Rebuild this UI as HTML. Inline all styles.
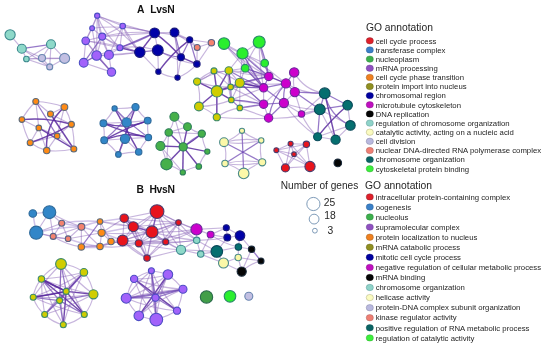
<!DOCTYPE html>
<html><head><meta charset="utf-8"><style>
html,body{margin:0;padding:0;background:#fff;}
svg{display:block;}
text{font-family:"Liberation Sans",Arial,sans-serif;}
.li{font-size:7.75px;fill:#1e1e1e;}
.hd{font-size:10.3px;fill:#262626;}
.tt{font-size:10.3px;font-weight:bold;fill:#111;letter-spacing:-0.25px;}
.el{fill:none;stroke:#8a64b8;stroke-width:1.15;stroke-opacity:0.48;}.em{fill:none;stroke:#6a40b0;stroke-width:1.25;stroke-opacity:0.7;}.ed{fill:none;stroke:#5a2a9e;stroke-width:1.45;stroke-opacity:0.86;}.ew{fill:none;stroke:#8a68c8;stroke-width:1.5;stroke-opacity:0.4;}
</style></head><body>
<svg width="550" height="348" viewBox="0 0 550 348">
<rect width="550" height="348" fill="#fff"/>
<defs><filter id="bl" x="-5%" y="-5%" width="110%" height="110%"><feGaussianBlur stdDeviation="0.3"/></filter></defs>
<g id="edges" filter="url(#bl)">
<path class="el" d="M10.1 34.8L21.8 48.7"/>
<path class="em" d="M21.8 48.7L51.0 44.3"/>
<path class="el" d="M21.8 48.7L42.0 58.0"/>
<path class="el" d="M21.8 48.7L49.7 66.9"/>
<path class="el" d="M26.4 59.0L42.0 58.0"/>
<path class="el" d="M26.4 59.0L64.6 58.4"/>
<path class="el" d="M26.4 59.0L51.0 44.3"/>
<path class="el" d="M26.4 59.0L49.7 66.9"/>
<path class="el" d="M51.0 44.3L42.0 58.0"/>
<path class="el" d="M51.0 44.3L49.7 66.9"/>
<path class="el" d="M42.0 58.0L64.6 58.4"/>
<path class="el" d="M42.0 58.0L49.7 66.9"/>
<path class="el" d="M49.7 66.9L64.6 58.4"/>
<path class="el" d="M21.8 48.7L26.4 59.0"/>
<path class="el" d="M51.0 44.3L64.6 58.4"/>
<path class="el" d="M97.2 15.7L92.1 28.2"/>
<path class="el" d="M97.2 15.7L102.2 36.6"/>
<path class="el" d="M97.2 15.7L85.7 40.8"/>
<path class="el" d="M92.1 28.2L102.2 36.6"/>
<path class="el" d="M92.1 28.2L85.7 40.8"/>
<path class="el" d="M122.7 26.0L102.2 36.6"/>
<path class="el" d="M122.7 26.0L119.9 47.7"/>
<path class="el" d="M122.7 26.0L108.9 54.9"/>
<path class="el" d="M102.2 36.6L85.7 40.8"/>
<path class="el" d="M102.2 36.6L96.6 55.5"/>
<path class="el" d="M102.2 36.6L108.9 54.9"/>
<path class="el" d="M102.2 36.6L119.9 47.7"/>
<path class="el" d="M85.7 40.8L96.6 55.5"/>
<path class="el" d="M85.7 40.8L83.7 62.8"/>
<path class="el" d="M96.6 55.5L108.9 54.9"/>
<path class="el" d="M96.6 55.5L83.7 62.8"/>
<path class="el" d="M96.6 55.5L111.5 72.1"/>
<path class="el" d="M108.9 54.9L111.5 72.1"/>
<path class="el" d="M108.9 54.9L119.9 47.7"/>
<path class="el" d="M83.7 62.8L111.5 72.1"/>
<path class="el" d="M119.9 47.7L96.6 55.5"/>
<path class="el" d="M92.1 28.2L96.6 55.5"/>
<path class="el" d="M85.7 40.8L119.9 47.7"/>
<path class="el" d="M97.2 15.7L96.6 55.5"/>
<path class="el" d="M97.2 15.7L122.7 26.0"/>
<path class="el" d="M97.2 15.7Q104.7 34.4 119.9 47.7"/>
<path class="el" d="M97.2 15.7Q99.1 36.5 108.9 54.9"/>
<path class="em" d="M96.6 55.5L111.5 72.1"/>
<path class="em" d="M83.7 62.8L96.6 55.5"/>
<path class="em" d="M102.2 36.6L83.7 62.8"/>
<path class="el" d="M85.7 40.8L111.5 72.1"/>
<path class="el" d="M97.2 15.7Q125.4 26.0 154.6 32.9"/>
<path class="el" d="M122.7 26.0L154.6 32.9"/>
<path class="ed" d="M119.9 47.7L139.8 52.2"/>
<path class="em" d="M119.9 47.7L154.6 32.9"/>
<path class="el" d="M102.2 36.6Q119.8 47.4 139.8 52.2"/>
<path class="el" d="M108.9 54.9L139.8 52.2"/>
<path class="el" d="M119.9 47.7Q139.1 45.2 157.8 50.2"/>
<path class="el" d="M85.7 40.8Q113.3 43.8 139.8 52.2"/>
<path class="el" d="M96.6 55.5Q118.4 56.0 139.8 52.2"/>
<path class="el" d="M122.7 26.0L139.8 52.2"/>
<path class="el" d="M92.1 28.2Q123.8 24.3 154.6 32.9"/>
<path class="el" d="M102.2 36.6Q128.1 30.6 154.6 32.9"/>
<path class="el" d="M154.6 32.9L174.5 32.5"/>
<path class="ed" d="M154.6 32.9L139.8 52.2"/>
<path class="el" d="M154.6 32.9L157.8 50.2"/>
<path class="em" d="M139.8 52.2L157.8 50.2"/>
<path class="ed" d="M154.6 32.9Q169.3 43.5 181.0 57.2"/>
<path class="ed" d="M181.0 57.2L196.9 64.1"/>
<path class="ed" d="M189.7 39.8Q171.5 53.2 158.4 71.7"/>
<path class="em" d="M174.5 32.5L181.0 57.2"/>
<path class="el" d="M174.5 32.5Q175.3 45.5 181.0 57.2"/>
<path class="el" d="M174.5 32.5Q178.3 54.9 177.5 77.6"/>
<path class="el" d="M157.8 50.2L158.4 71.7"/>
<path class="el" d="M181.0 57.2L177.5 77.6"/>
<path class="el" d="M196.9 64.1Q188.8 73.2 177.5 77.6"/>
<path class="el" d="M158.4 71.7Q167.2 76.9 177.5 77.6"/>
<path class="em" d="M157.8 50.2Q168.6 56.5 181.0 57.2"/>
<path class="em" d="M189.7 39.8L196.9 64.1"/>
<path class="el" d="M174.5 32.5L189.7 39.8"/>
<path class="el" d="M139.8 52.2L158.4 71.7"/>
<path class="el" d="M157.8 50.2Q176.0 61.1 196.9 64.1"/>
<path class="el" d="M154.6 32.9Q172.8 32.8 189.7 39.8"/>
<path class="em" d="M189.7 39.8L181.0 57.2"/>
<path class="el" d="M189.7 39.8L197.2 47.5"/>
<path class="el" d="M196.9 64.1L197.2 47.5"/>
<path class="el" d="M174.5 32.5L197.2 47.5"/>
<path class="el" d="M197.2 47.5L211.4 42.7"/>
<path class="el" d="M211.4 42.7L196.9 64.1"/>
<path class="el" d="M189.7 39.8L211.4 42.7"/>
<path class="el" d="M224.0 43.6L242.5 53.4"/>
<path class="el" d="M259.2 42.0L242.5 53.4"/>
<path class="el" d="M259.2 42.0L264.7 63.2"/>
<path class="el" d="M242.5 53.4L245.2 68.2"/>
<path class="el" d="M259.2 42.0Q250.1 54.0 245.2 68.2"/>
<path class="el" d="M242.5 53.4L264.7 63.2"/>
<path class="el" d="M259.2 42.0Q262.3 59.7 268.8 76.4"/>
<path class="el" d="M242.5 53.4L268.8 76.4"/>
<path class="el" d="M242.5 53.4Q265.7 66.2 285.9 83.4"/>
<path class="el" d="M264.7 63.2L268.8 76.4"/>
<path class="el" d="M245.2 68.2L268.8 76.4"/>
<path class="el" d="M245.2 68.2L263.6 87.8"/>
<path class="el" d="M224.0 43.6Q243.8 63.6 268.8 76.4"/>
<path class="el" d="M242.5 53.4L263.6 87.8"/>
<path class="el" d="M224.0 43.6L245.2 68.2"/>
<path class="el" d="M216.9 91.3L239.8 82.8"/>
<path class="ed" d="M216.9 91.3L228.8 70.5"/>
<path class="ed" d="M216.9 91.3L216.8 117.2"/>
<path class="ed" d="M216.9 91.3L214.0 70.9"/>
<path class="ed" d="M216.9 91.3L197.1 81.6"/>
<path class="ed" d="M216.9 91.3L198.9 106.5"/>
<path class="ed" d="M216.9 91.3L230.6 86.9"/>
<path class="ed" d="M216.9 91.3L231.3 99.9"/>
<path class="ed" d="M228.8 70.5L230.6 86.9"/>
<path class="em" d="M230.6 86.9L231.3 99.9"/>
<path class="em" d="M231.3 99.9L239.8 107.9"/>
<path class="el" d="M228.8 70.5L239.8 82.8"/>
<path class="el" d="M239.8 82.8L230.6 86.9"/>
<path class="el" d="M239.8 82.8L239.8 107.9"/>
<path class="el" d="M239.8 82.8L231.3 99.9"/>
<path class="el" d="M197.1 81.6Q206.8 78.3 214.0 70.9"/>
<path class="el" d="M198.9 106.5Q201.0 93.8 197.1 81.6"/>
<path class="el" d="M216.8 117.2Q209.1 109.7 198.9 106.5"/>
<path class="el" d="M239.8 107.9Q227.2 109.8 216.8 117.2"/>
<path class="el" d="M214.0 70.9Q221.4 72.5 228.8 70.5"/>
<path class="el" d="M197.1 81.6Q204.5 74.6 214.0 70.9"/>
<path class="el" d="M214.0 70.9L230.6 86.9"/>
<path class="el" d="M228.8 70.5Q227.1 85.5 231.3 99.9"/>
<path class="el" d="M197.1 81.6Q213.3 87.6 230.6 86.9"/>
<path class="el" d="M228.8 70.5L242.5 53.4"/>
<path class="el" d="M228.8 70.5L245.2 68.2"/>
<path class="el" d="M239.8 82.8L245.2 68.2"/>
<path class="em" d="M239.8 82.8L263.6 87.8"/>
<path class="el" d="M239.8 82.8L268.8 76.4"/>
<path class="el" d="M230.6 86.9L263.6 87.8"/>
<path class="el" d="M231.3 99.9L263.6 104.2"/>
<path class="em" d="M239.8 107.9L263.6 104.2"/>
<path class="el" d="M239.8 107.9L268.6 118.0"/>
<path class="el" d="M239.8 82.8L263.6 104.2"/>
<path class="el" d="M231.3 99.9L263.6 87.8"/>
<path class="el" d="M228.8 70.5Q248.5 75.5 268.8 76.4"/>
<path class="el" d="M216.8 117.2Q242.7 119.7 268.6 118.0"/>
<path class="el" d="M230.6 86.9L268.8 76.4"/>
<path class="ed" d="M268.8 76.4L285.9 83.4"/>
<path class="em" d="M285.9 83.4L294.2 72.4"/>
<path class="em" d="M285.9 83.4L294.8 92.1"/>
<path class="em" d="M263.6 87.8L285.9 83.4"/>
<path class="em" d="M268.8 76.4L263.6 87.8"/>
<path class="el" d="M263.6 87.8L263.6 104.2"/>
<path class="el" d="M263.6 104.2L268.6 118.0"/>
<path class="em" d="M283.9 103.0L268.6 118.0"/>
<path class="el" d="M283.9 103.0L294.8 92.1"/>
<path class="em" d="M285.9 83.4Q282.9 93.0 283.9 103.0"/>
<path class="em" d="M263.6 104.2L283.9 103.0"/>
<path class="el" d="M294.8 92.1L301.5 113.9"/>
<path class="el" d="M283.9 103.0L301.5 113.9"/>
<path class="el" d="M294.2 72.4Q292.5 82.3 294.8 92.1"/>
<path class="em" d="M263.6 87.8L283.9 103.0"/>
<path class="el" d="M263.6 104.2L285.9 83.4"/>
<path class="em" d="M268.6 118.0Q272.1 98.1 285.9 83.4"/>
<path class="el" d="M294.2 72.4Q304.2 90.5 324.7 93.3"/>
<path class="el" d="M285.9 83.4Q303.8 94.2 324.7 93.3"/>
<path class="em" d="M294.8 92.1L324.7 93.3"/>
<path class="em" d="M294.8 92.1L319.8 109.4"/>
<path class="el" d="M301.5 113.9L319.8 109.4"/>
<path class="el" d="M283.9 103.0Q301.2 109.8 319.8 109.4"/>
<path class="el" d="M268.6 118.0Q295.2 119.8 319.8 109.4"/>
<path class="el" d="M301.5 113.9L324.7 93.3"/>
<path class="el" d="M301.5 113.9Q307.3 127.0 317.6 136.8"/>
<path class="el" d="M283.9 103.0Q297.4 123.3 317.6 136.8"/>
<path class="ed" d="M324.7 93.3L335.6 139.7"/>
<path class="em" d="M324.7 93.3Q329.5 115.8 350.4 125.4"/>
<path class="em" d="M319.8 109.4L347.6 105.2"/>
<path class="ed" d="M347.6 105.2Q331.0 119.5 317.6 136.8"/>
<path class="el" d="M347.6 105.2L350.4 125.4"/>
<path class="el" d="M350.4 125.4L335.6 139.7"/>
<path class="el" d="M317.6 136.8L335.6 139.7"/>
<path class="em" d="M319.8 109.4L317.6 136.8"/>
<path class="em" d="M324.7 93.3L347.6 105.2"/>
<path class="em" d="M324.7 93.3L319.8 109.4"/>
<path class="el" d="M319.8 109.4L335.6 139.7"/>
<path class="el" d="M317.6 136.8L350.4 125.4"/>
<path class="el" d="M319.8 109.4L350.4 125.4"/>
<path class="el" d="M35.8 101.5Q50.5 102.0 64.4 107.1"/>
<path class="el" d="M64.4 107.1Q69.3 115.2 71.4 124.4"/>
<path class="el" d="M71.4 124.4Q74.6 136.5 73.8 149.0"/>
<path class="el" d="M73.8 149.0Q60.4 152.0 46.7 150.6"/>
<path class="el" d="M46.7 150.6Q37.8 148.0 30.2 142.7"/>
<path class="el" d="M30.2 142.7Q24.2 131.8 21.9 119.6"/>
<path class="el" d="M21.9 119.6Q27.4 109.4 35.8 101.5"/>
<path class="el" d="M35.8 101.5L50.5 114.0"/>
<path class="el" d="M50.5 114.0L64.4 107.1"/>
<path class="el" d="M35.8 101.5L38.8 127.9"/>
<path class="el" d="M21.9 119.6L38.8 127.9"/>
<path class="el" d="M38.8 127.9L30.2 142.7"/>
<path class="el" d="M38.8 127.9L46.7 150.6"/>
<path class="el" d="M57.1 135.9L46.7 150.6"/>
<path class="el" d="M57.1 135.9L73.8 149.0"/>
<path class="el" d="M57.1 135.9L71.4 124.4"/>
<path class="el" d="M50.5 114.0L71.4 124.4"/>
<path class="el" d="M64.4 107.1L57.1 135.9"/>
<path class="el" d="M38.8 127.9L57.1 135.9"/>
<path class="el" d="M30.2 142.7L57.1 135.9"/>
<path class="ed" d="M21.9 119.6Q47.1 117.0 71.4 124.4"/>
<path class="ed" d="M38.8 127.9L73.8 149.0"/>
<path class="ed" d="M50.5 114.0L73.8 149.0"/>
<path class="ed" d="M30.2 142.7Q51.7 135.6 71.4 124.4"/>
<path class="ed" d="M64.4 107.1Q44.7 124.4 46.7 150.6"/>
<path class="em" d="M35.8 101.5L57.1 135.9"/>
<path class="el" d="M114.6 108.4Q125.1 108.8 135.5 107.1"/>
<path class="el" d="M135.5 107.1Q140.9 114.5 147.7 120.6"/>
<path class="el" d="M147.7 120.6Q147.2 129.0 148.4 137.4"/>
<path class="el" d="M148.4 137.4Q142.8 144.2 138.7 151.9"/>
<path class="el" d="M138.7 151.9Q128.4 152.1 118.4 154.4"/>
<path class="el" d="M118.4 154.4Q112.0 146.6 104.2 140.2"/>
<path class="el" d="M104.2 140.2Q104.6 131.7 103.4 123.3"/>
<path class="el" d="M103.4 123.3Q109.7 116.4 114.6 108.4"/>
<path class="ed" d="M114.6 108.4L138.7 151.9"/>
<path class="ed" d="M135.5 107.1L118.4 154.4"/>
<path class="ed" d="M103.4 123.3Q125.2 132.6 148.4 137.4"/>
<path class="ed" d="M104.2 140.2Q125.0 128.2 147.7 120.6"/>
<path class="ed" d="M103.4 123.3Q126.0 129.9 147.7 120.6"/>
<path class="ed" d="M104.2 140.2Q125.8 130.8 148.4 137.4"/>
<path class="em" d="M126.6 122.4L125.0 138.8"/>
<path class="el" d="M126.6 122.4L114.6 108.4"/>
<path class="el" d="M126.6 122.4L135.5 107.1"/>
<path class="el" d="M126.6 122.4L103.4 123.3"/>
<path class="el" d="M126.6 122.4L147.7 120.6"/>
<path class="el" d="M125.0 138.8L104.2 140.2"/>
<path class="el" d="M125.0 138.8L148.4 137.4"/>
<path class="el" d="M125.0 138.8L118.4 154.4"/>
<path class="el" d="M125.0 138.8L138.7 151.9"/>
<path class="em" d="M114.6 108.4Q130.1 124.6 148.4 137.4"/>
<path class="em" d="M135.5 107.1Q121.5 125.2 104.2 140.2"/>
<path class="ed" d="M183.2 146.9L187.5 126.7"/>
<path class="ed" d="M183.2 146.9L168.7 132.4"/>
<path class="ed" d="M183.2 146.9L160.4 146.0"/>
<path class="ed" d="M183.2 146.9L207.3 151.6"/>
<path class="ed" d="M183.2 146.9L166.5 164.2"/>
<path class="ed" d="M183.2 146.9L198.8 166.5"/>
<path class="ed" d="M183.2 146.9L182.8 172.4"/>
<path class="ed" d="M183.2 146.9Q193.0 141.0 201.8 133.7"/>
<path class="em" d="M183.2 146.9Q191.7 139.2 201.8 133.7"/>
<path class="el" d="M183.2 146.9L174.4 116.7"/>
<path class="el" d="M174.4 116.7Q179.9 123.0 187.5 126.7"/>
<path class="el" d="M187.5 126.7Q194.0 131.6 201.8 133.7"/>
<path class="el" d="M201.8 133.7Q202.8 143.2 207.3 151.6"/>
<path class="el" d="M207.3 151.6Q201.6 158.2 198.8 166.5"/>
<path class="el" d="M198.8 166.5Q190.2 167.8 182.8 172.4"/>
<path class="el" d="M182.8 172.4Q175.5 166.7 166.5 164.2"/>
<path class="el" d="M166.5 164.2Q165.3 154.5 160.4 146.0"/>
<path class="el" d="M160.4 146.0Q165.9 140.0 168.7 132.4"/>
<path class="el" d="M168.7 132.4Q173.1 125.1 174.4 116.7"/>
<path class="el" d="M187.5 126.7L168.7 132.4"/>
<path class="el" d="M168.7 132.4L201.8 133.7"/>
<path class="el" d="M168.7 132.4L166.5 164.2"/>
<path class="el" d="M160.4 146.0L182.8 172.4"/>
<path class="em" d="M242.0 130.8L243.7 173.4"/>
<path class="em" d="M224.0 142.2L262.2 162.3"/>
<path class="em" d="M261.2 140.5L225.0 163.5"/>
<path class="el" d="M224.0 142.2Q234.4 138.7 242.0 130.8"/>
<path class="el" d="M242.0 130.8Q250.4 138.0 261.2 140.5"/>
<path class="el" d="M261.2 140.5Q259.1 151.5 262.2 162.3"/>
<path class="el" d="M262.2 162.3Q251.6 165.6 243.7 173.4"/>
<path class="el" d="M243.7 173.4Q235.5 166.2 225.0 163.5"/>
<path class="el" d="M225.0 163.5Q227.1 152.7 224.0 142.2"/>
<path class="el" d="M224.0 142.2Q242.4 137.6 261.2 140.5"/>
<path class="el" d="M224.0 142.2Q242.8 145.1 261.2 140.5"/>
<path class="el" d="M225.0 163.5Q243.7 166.6 262.2 162.3"/>
<path class="el" d="M225.0 163.5Q243.5 159.2 262.2 162.3"/>
<path class="el" d="M290.6 143.8L306.4 144.3"/>
<path class="el" d="M290.6 143.8L276.3 150.2"/>
<path class="el" d="M290.6 143.8L294.0 154.2"/>
<path class="el" d="M290.6 143.8L285.4 167.9"/>
<path class="el" d="M290.6 143.8L310.0 166.5"/>
<path class="el" d="M306.4 144.3L276.3 150.2"/>
<path class="el" d="M306.4 144.3L294.0 154.2"/>
<path class="el" d="M306.4 144.3L285.4 167.9"/>
<path class="el" d="M306.4 144.3L310.0 166.5"/>
<path class="el" d="M276.3 150.2L294.0 154.2"/>
<path class="el" d="M276.3 150.2L285.4 167.9"/>
<path class="el" d="M276.3 150.2L310.0 166.5"/>
<path class="el" d="M294.0 154.2L285.4 167.9"/>
<path class="el" d="M294.0 154.2L310.0 166.5"/>
<path class="el" d="M285.4 167.9L310.0 166.5"/>
<path class="el" d="M32.8 213.5L49.4 212.2"/>
<path class="ew" d="M32.8 213.5L36.2 232.7"/>
<path class="el" d="M49.4 212.2L36.2 232.7"/>
<path class="el" d="M49.4 212.2L61.7 223.3"/>
<path class="el" d="M49.4 212.2L53.2 236.4"/>
<path class="el" d="M36.2 232.7L61.7 223.3"/>
<path class="el" d="M36.2 232.7L53.2 236.4"/>
<path class="ew" d="M36.2 232.7Q58.4 227.0 81.4 226.8"/>
<path class="el" d="M36.2 232.7Q51.9 237.3 68.1 238.7"/>
<path class="el" d="M49.4 212.2Q64.7 221.1 81.4 226.8"/>
<path class="ew" d="M61.7 223.3L81.4 226.8"/>
<path class="el" d="M61.7 223.3L53.2 236.4"/>
<path class="el" d="M61.7 223.3L68.1 238.7"/>
<path class="el" d="M53.2 236.4Q60.4 239.0 68.1 238.7"/>
<path class="el" d="M81.4 226.8L68.1 238.7"/>
<path class="el" d="M53.2 236.4L81.4 226.8"/>
<path class="ew" d="M81.4 226.8Q90.4 223.2 100.0 221.5"/>
<path class="ew" d="M81.4 226.8L101.6 232.8"/>
<path class="el" d="M81.4 226.8L81.3 246.9"/>
<path class="el" d="M81.4 226.8Q89.7 237.5 100.0 246.4"/>
<path class="ew" d="M61.7 223.3Q80.7 220.1 100.0 221.5"/>
<path class="ew" d="M68.1 238.7Q83.6 244.5 100.0 246.4"/>
<path class="el" d="M53.2 236.4Q66.2 244.5 81.3 246.9"/>
<path class="el" d="M68.1 238.7L101.6 232.8"/>
<path class="em" d="M81.3 246.9L100.0 221.5"/>
<path class="ew" d="M81.3 246.9Q90.7 248.5 100.0 246.4"/>
<path class="el" d="M81.3 246.9Q90.6 244.8 100.0 246.4"/>
<path class="el" d="M100.0 246.4L101.6 232.8"/>
<path class="el" d="M100.0 221.5L101.6 232.8"/>
<path class="el" d="M101.6 232.8L111.0 241.5"/>
<path class="el" d="M100.0 246.4L111.0 241.5"/>
<path class="el" d="M100.0 221.5L111.0 241.5"/>
<path class="ew" d="M100.0 221.5L124.2 218.2"/>
<path class="ew" d="M101.6 232.8L133.3 226.7"/>
<path class="ew" d="M101.6 232.8L122.6 240.5"/>
<path class="ew" d="M111.0 241.5L122.6 240.5"/>
<path class="el" d="M100.0 246.4L122.6 240.5"/>
<path class="el" d="M100.0 221.5Q116.4 225.8 133.3 226.7"/>
<path class="el" d="M111.0 241.5Q124.8 244.6 138.8 243.3"/>
<path class="el" d="M101.6 232.8L124.2 218.2"/>
<path class="el" d="M100.0 246.4Q119.7 248.7 138.8 243.3"/>
<path class="el" d="M100.0 221.5Q126.5 224.1 152.0 231.9"/>
<path class="el" d="M101.6 232.8Q126.8 234.9 152.0 231.9"/>
<path class="el" d="M81.3 246.9Q102.5 247.0 122.6 240.5"/>
<path class="el" d="M157.0 211.6L124.2 218.2"/>
<path class="el" d="M157.0 211.6L133.3 226.7"/>
<path class="el" d="M157.0 211.6L152.0 231.9"/>
<path class="el" d="M157.0 211.6L122.6 240.5"/>
<path class="el" d="M157.0 211.6L138.8 243.3"/>
<path class="el" d="M157.0 211.6L178.5 222.6"/>
<path class="el" d="M157.0 211.6L165.7 241.9"/>
<path class="el" d="M157.0 211.6L147.0 258.1"/>
<path class="el" d="M124.2 218.2L133.3 226.7"/>
<path class="el" d="M124.2 218.2L152.0 231.9"/>
<path class="el" d="M124.2 218.2L122.6 240.5"/>
<path class="el" d="M124.2 218.2L138.8 243.3"/>
<path class="el" d="M124.2 218.2L178.5 222.6"/>
<path class="el" d="M124.2 218.2L165.7 241.9"/>
<path class="el" d="M124.2 218.2L147.0 258.1"/>
<path class="el" d="M133.3 226.7L152.0 231.9"/>
<path class="el" d="M133.3 226.7L122.6 240.5"/>
<path class="el" d="M133.3 226.7L138.8 243.3"/>
<path class="el" d="M133.3 226.7L178.5 222.6"/>
<path class="el" d="M133.3 226.7L165.7 241.9"/>
<path class="el" d="M133.3 226.7L147.0 258.1"/>
<path class="el" d="M152.0 231.9L122.6 240.5"/>
<path class="el" d="M152.0 231.9L138.8 243.3"/>
<path class="el" d="M152.0 231.9L178.5 222.6"/>
<path class="el" d="M152.0 231.9L165.7 241.9"/>
<path class="el" d="M152.0 231.9L147.0 258.1"/>
<path class="el" d="M122.6 240.5L138.8 243.3"/>
<path class="el" d="M122.6 240.5L178.5 222.6"/>
<path class="el" d="M122.6 240.5L165.7 241.9"/>
<path class="el" d="M122.6 240.5L147.0 258.1"/>
<path class="el" d="M138.8 243.3L178.5 222.6"/>
<path class="el" d="M138.8 243.3L165.7 241.9"/>
<path class="el" d="M138.8 243.3L147.0 258.1"/>
<path class="el" d="M178.5 222.6L165.7 241.9"/>
<path class="el" d="M178.5 222.6L147.0 258.1"/>
<path class="el" d="M165.7 241.9L147.0 258.1"/>
<path class="em" d="M157.0 211.6L152.0 231.9"/>
<path class="em" d="M133.3 226.7L152.0 231.9"/>
<path class="em" d="M124.2 218.2L133.3 226.7"/>
<path class="el" d="M157.0 211.6Q167.1 231.9 181.0 249.8"/>
<path class="el" d="M157.0 211.6Q175.4 227.9 196.7 240.3"/>
<path class="el" d="M157.0 211.6Q175.9 222.5 196.5 229.4"/>
<path class="el" d="M152.0 231.9Q165.6 242.3 181.0 249.8"/>
<path class="el" d="M152.0 231.9Q173.9 238.3 196.7 240.3"/>
<path class="el" d="M152.0 231.9Q174.4 232.9 196.5 229.4"/>
<path class="el" d="M178.5 222.6Q178.4 236.3 181.0 249.8"/>
<path class="el" d="M178.5 222.6Q186.7 232.4 196.7 240.3"/>
<path class="el" d="M178.5 222.6Q187.2 226.9 196.5 229.4"/>
<path class="el" d="M165.7 241.9Q173.0 246.6 181.0 249.8"/>
<path class="el" d="M165.7 241.9Q181.3 242.7 196.7 240.3"/>
<path class="el" d="M165.7 241.9Q181.7 237.2 196.5 229.4"/>
<path class="el" d="M138.8 243.3Q159.6 248.7 181.0 249.8"/>
<path class="el" d="M138.8 243.3Q167.9 244.7 196.7 240.3"/>
<path class="el" d="M138.8 243.3Q168.3 239.2 196.5 229.4"/>
<path class="el" d="M181.0 249.8L196.7 240.3"/>
<path class="el" d="M181.0 249.8L200.7 254.1"/>
<path class="el" d="M196.7 240.3L200.7 254.1"/>
<path class="el" d="M196.7 240.3L196.5 229.4"/>
<path class="el" d="M200.7 254.1L216.8 251.4"/>
<path class="el" d="M181.0 249.8L216.8 251.4"/>
<path class="el" d="M196.7 240.3L216.8 251.4"/>
<path class="el" d="M196.5 229.4L210.6 234.6"/>
<path class="el" d="M210.6 234.6L226.3 227.8"/>
<path class="el" d="M210.6 234.6L227.3 237.5"/>
<path class="el" d="M226.3 227.8L240.0 235.6"/>
<path class="el" d="M227.3 237.5L240.0 235.6"/>
<path class="el" d="M226.3 227.8L227.3 237.5"/>
<path class="el" d="M196.5 229.4L226.3 227.8"/>
<path class="el" d="M240.0 235.6L251.6 249.3"/>
<path class="em" d="M251.6 249.3L261.0 261.0"/>
<path class="el" d="M261.0 261.0Q249.8 263.4 241.7 271.6"/>
<path class="el" d="M251.6 249.3L241.7 271.6"/>
<path class="el" d="M238.4 247.0L251.6 249.3"/>
<path class="el" d="M238.4 247.0L238.2 257.5"/>
<path class="el" d="M238.2 257.5L241.7 271.6"/>
<path class="el" d="M223.5 263.0L241.7 271.6"/>
<path class="el" d="M223.5 263.0L238.2 257.5"/>
<path class="el" d="M216.8 251.4L238.4 247.0"/>
<path class="el" d="M216.8 251.4L223.5 263.0"/>
<path class="el" d="M238.4 247.0L240.0 235.6"/>
<path class="el" d="M238.2 257.5L261.0 261.0"/>
<path class="el" d="M200.7 254.1L210.6 234.6"/>
<path class="el" d="M216.8 251.4L227.3 237.5"/>
<path class="el" d="M210.6 234.6Q223.3 243.6 238.4 247.0"/>
<path class="el" d="M196.7 240.3Q212.1 240.4 227.3 237.5"/>
<path class="el" d="M200.7 254.1L223.5 263.0"/>
<path class="el" d="M147.0 258.1L181.0 249.8"/>
<path class="el" d="M147.0 258.1Q144.9 240.3 133.3 226.7"/>
<path class="el" d="M147.0 258.1Q133.0 251.7 122.6 240.5"/>
<path class="el" d="M61.0 264.0Q73.7 264.7 83.9 272.3"/>
<path class="el" d="M83.9 272.3Q92.0 281.9 93.4 294.3"/>
<path class="el" d="M93.4 294.3Q91.9 305.8 84.3 314.5"/>
<path class="el" d="M84.3 314.5Q75.3 322.8 63.3 324.8"/>
<path class="el" d="M63.3 324.8Q52.5 322.4 44.7 314.5"/>
<path class="el" d="M44.7 314.5Q36.4 307.6 33.2 297.3"/>
<path class="el" d="M33.2 297.3Q34.6 286.9 41.4 279.0"/>
<path class="el" d="M41.4 279.0Q49.0 268.6 61.0 264.0"/>
<path class="ed" d="M66.2 291.4L83.9 272.3"/>
<path class="ed" d="M66.2 291.4L41.4 279.0"/>
<path class="ed" d="M66.2 291.4L93.4 294.3"/>
<path class="ed" d="M66.2 291.4L33.2 297.3"/>
<path class="ed" d="M66.2 291.4L63.3 324.8"/>
<path class="ed" d="M66.2 291.4L84.3 314.5"/>
<path class="em" d="M66.2 291.4L61.0 264.0"/>
<path class="em" d="M66.2 291.4L44.7 314.5"/>
<path class="ed" d="M41.4 279.0L84.3 314.5"/>
<path class="em" d="M66.2 291.4L59.6 300.6"/>
<path class="em" d="M59.6 300.6L61.0 264.0"/>
<path class="em" d="M59.6 300.6L83.9 272.3"/>
<path class="em" d="M59.6 300.6L41.4 279.0"/>
<path class="em" d="M59.6 300.6L93.4 294.3"/>
<path class="em" d="M59.6 300.6L33.2 297.3"/>
<path class="em" d="M59.6 300.6L44.7 314.5"/>
<path class="em" d="M59.6 300.6L84.3 314.5"/>
<path class="em" d="M59.6 300.6L63.3 324.8"/>
<path class="el" d="M41.4 279.0Q66.6 289.2 93.4 294.3"/>
<path class="el" d="M33.2 297.3Q59.8 287.3 83.9 272.3"/>
<path class="el" d="M33.2 297.3Q63.5 298.8 93.4 294.3"/>
<path class="el" d="M41.4 279.0Q50.1 303.0 63.3 324.8"/>
<path class="el" d="M61.0 264.0Q59.1 294.5 63.3 324.8"/>
<path class="el" d="M61.0 264.0Q45.4 279.3 33.2 297.3"/>
<path class="el" d="M83.9 272.3Q62.2 291.4 44.7 314.5"/>
<path class="el" d="M44.7 314.5Q70.1 306.8 93.4 294.3"/>
<path class="el" d="M41.4 279.0Q41.3 296.9 44.7 314.5"/>
<path class="el" d="M33.2 297.3Q57.9 308.5 84.3 314.5"/>
<path class="el" d="M61.0 264.0Q70.1 290.4 84.3 314.5"/>
<path class="el" d="M83.9 272.3Q71.0 297.5 63.3 324.8"/>
<path class="el" d="M41.4 279.0Q63.0 277.8 83.9 272.3"/>
<path class="el" d="M61.0 264.0Q75.7 280.8 93.4 294.3"/>
<path class="ed" d="M41.4 279.0Q53.4 285.9 66.2 291.4"/>
<path class="ed" d="M33.2 297.3Q49.9 295.3 66.2 291.4"/>
<path class="el" d="M151.4 270.7Q159.9 271.6 167.9 274.5"/>
<path class="el" d="M167.9 274.5Q176.3 280.9 183.0 289.2"/>
<path class="el" d="M183.0 289.2Q181.3 300.3 177.0 310.7"/>
<path class="el" d="M177.0 310.7Q167.2 316.4 156.3 319.6"/>
<path class="el" d="M156.3 319.6Q147.3 318.8 138.8 315.8"/>
<path class="el" d="M138.8 315.8Q131.4 307.8 126.2 298.2"/>
<path class="el" d="M126.2 298.2Q129.0 288.1 134.1 278.9"/>
<path class="el" d="M134.1 278.9Q142.3 273.8 151.4 270.7"/>
<path class="ed" d="M134.1 278.9L177.0 310.7"/>
<path class="ed" d="M138.8 315.8L167.9 274.5"/>
<path class="em" d="M126.2 298.2L183.0 289.2"/>
<path class="em" d="M126.2 298.2Q155.0 296.0 183.0 289.2"/>
<path class="el" d="M126.2 298.2Q154.2 290.9 183.0 289.2"/>
<path class="em" d="M151.4 270.7L156.3 319.6"/>
<path class="el" d="M151.4 270.7Q151.4 295.4 156.3 319.6"/>
<path class="em" d="M155.5 297.7L151.4 270.7"/>
<path class="em" d="M155.5 297.7L167.9 274.5"/>
<path class="em" d="M155.5 297.7L134.1 278.9"/>
<path class="em" d="M155.5 297.7L183.0 289.2"/>
<path class="em" d="M155.5 297.7L126.2 298.2"/>
<path class="em" d="M155.5 297.7L177.0 310.7"/>
<path class="em" d="M155.5 297.7L138.8 315.8"/>
<path class="em" d="M155.5 297.7L156.3 319.6"/>
<path class="el" d="M134.1 278.9Q157.7 288.0 183.0 289.2"/>
<path class="el" d="M126.2 298.2Q148.9 289.7 167.9 274.5"/>
<path class="el" d="M134.1 278.9Q141.9 301.0 156.3 319.6"/>
<path class="el" d="M151.4 270.7Q141.5 292.2 138.8 315.8"/>
<path class="el" d="M167.9 274.5Q158.5 296.1 156.3 319.6"/>
<path class="el" d="M183.0 289.2Q158.8 299.0 138.8 315.8"/>
<path class="el" d="M151.4 270.7Q161.0 292.7 177.0 310.7"/>
<path class="el" d="M134.1 278.9Q151.4 279.4 167.9 274.5"/>
<path class="el" d="M126.2 298.2Q150.6 308.5 177.0 310.7"/>
<path class="el" d="M151.4 270.7Q136.6 282.4 126.2 298.2"/>
<path class="em" d="M242.5 53.4Q252.0 71.2 263.6 87.8"/>
<path class="em" d="M228.8 70.5Q245.5 80.5 263.6 87.8"/>
<path class="em" d="M239.8 82.8L263.6 104.2"/>
<path class="el" d="M230.6 86.9L263.6 104.2"/>
<path class="el" d="M242.5 53.4L239.8 82.8"/>
<path class="em" d="M231.3 99.9Q247.7 100.4 263.6 104.2"/>
<path class="el" d="M239.8 107.9Q251.9 107.2 263.6 104.2"/>
<path class="em" d="M230.6 86.9L263.6 87.8"/>
<path class="em" d="M242.5 53.4Q254.5 66.2 268.8 76.4"/>
<path class="em" d="M245.2 68.2L268.8 76.4"/>
<path class="em" d="M245.2 68.2L263.6 87.8"/>
<path class="em" d="M259.2 42.0Q265.7 58.7 268.8 76.4"/>
<path class="el" d="M259.2 42.0Q259.1 65.1 263.6 87.8"/>
<path class="el" d="M264.7 63.2L268.8 76.4"/>
<path class="el" d="M224.0 43.6Q246.0 63.7 263.6 87.8"/>
<path class="ed" d="M239.8 82.8L263.6 87.8"/>
<path class="em" d="M239.8 82.8L268.8 76.4"/>
<path class="el" d="M228.8 70.5Q249.1 71.5 268.8 76.4"/>
<path class="el" d="M239.8 82.8Q262.8 85.4 285.9 83.4"/>
<path class="el" d="M224.0 43.6Q232.3 50.4 242.5 53.4"/>
<path class="el" d="M102.2 36.6L154.6 32.9"/>
<path class="el" d="M122.7 26.0Q128.6 40.8 139.8 52.2"/>
<path class="el" d="M97.2 15.7Q122.2 29.7 139.8 52.2"/>
<path class="em" d="M119.9 47.7Q138.0 42.0 154.6 32.9"/>
<path class="em" d="M216.9 91.3Q229.2 89.3 239.8 82.8"/>
<path class="el" d="M216.9 91.3Q223.1 87.0 230.6 86.9"/>
<path class="el" d="M197.1 81.6Q211.8 72.9 228.8 70.5"/>
<path class="el" d="M198.9 106.5Q215.8 106.4 231.3 99.9"/>
<path class="el" d="M214.0 70.9Q228.1 74.3 239.8 82.8"/>
</g>
<g id="nodes">
<circle cx="10.1" cy="34.8" r="5.10" fill="#8ed9c9" stroke="#3d8a8e" stroke-width="1.1"/>
<circle cx="21.8" cy="48.7" r="4.50" fill="#8ed9c9" stroke="#3d8a8e" stroke-width="1.1"/>
<circle cx="26.4" cy="59.0" r="2.80" fill="#8ed9c9" stroke="#3d8a8e" stroke-width="1.1"/>
<circle cx="51.0" cy="44.3" r="4.50" fill="#8ed9c9" stroke="#3d8a8e" stroke-width="1.1"/>
<circle cx="42.0" cy="58.0" r="3.50" fill="#c2bfe2" stroke="#6a86b0" stroke-width="1.1"/>
<circle cx="64.6" cy="58.4" r="5.00" fill="#c2bfe2" stroke="#6a86b0" stroke-width="1.1"/>
<circle cx="49.7" cy="66.9" r="3.00" fill="#c2bfe2" stroke="#6a86b0" stroke-width="1.1"/>
<circle cx="97.2" cy="15.7" r="2.60" fill="#a262fa" stroke="#4d4ec4" stroke-width="1.1"/>
<circle cx="92.1" cy="28.2" r="2.40" fill="#a262fa" stroke="#4d4ec4" stroke-width="1.1"/>
<circle cx="122.7" cy="26.0" r="2.80" fill="#a262fa" stroke="#4d4ec4" stroke-width="1.1"/>
<circle cx="102.2" cy="36.6" r="3.50" fill="#a262fa" stroke="#4d4ec4" stroke-width="1.1"/>
<circle cx="85.7" cy="40.8" r="3.80" fill="#a262fa" stroke="#4d4ec4" stroke-width="1.1"/>
<circle cx="119.9" cy="47.7" r="3.00" fill="#a262fa" stroke="#4d4ec4" stroke-width="1.1"/>
<circle cx="96.6" cy="55.5" r="4.80" fill="#a262fa" stroke="#4d4ec4" stroke-width="1.1"/>
<circle cx="108.9" cy="54.9" r="4.50" fill="#a262fa" stroke="#4d4ec4" stroke-width="1.1"/>
<circle cx="83.7" cy="62.8" r="4.40" fill="#a262fa" stroke="#4d4ec4" stroke-width="1.1"/>
<circle cx="111.5" cy="72.1" r="4.20" fill="#a262fa" stroke="#4d4ec4" stroke-width="1.1"/>
<circle cx="154.6" cy="32.9" r="4.90" fill="#0000a8" stroke="#1a1a7a" stroke-width="1.1"/>
<circle cx="174.5" cy="32.5" r="4.40" fill="#0000a8" stroke="#1a1a7a" stroke-width="1.1"/>
<circle cx="139.8" cy="52.2" r="5.20" fill="#0000a8" stroke="#1a1a7a" stroke-width="1.1"/>
<circle cx="157.8" cy="50.2" r="5.40" fill="#0000a8" stroke="#1a1a7a" stroke-width="1.1"/>
<circle cx="189.7" cy="39.8" r="3.00" fill="#0000a8" stroke="#1a1a7a" stroke-width="1.1"/>
<circle cx="181.0" cy="57.2" r="3.40" fill="#0000a8" stroke="#1a1a7a" stroke-width="1.1"/>
<circle cx="196.9" cy="64.1" r="3.20" fill="#0000a8" stroke="#1a1a7a" stroke-width="1.1"/>
<circle cx="158.4" cy="71.7" r="2.60" fill="#0000a8" stroke="#1a1a7a" stroke-width="1.1"/>
<circle cx="177.5" cy="77.6" r="2.60" fill="#0000a8" stroke="#1a1a7a" stroke-width="1.1"/>
<circle cx="197.2" cy="47.5" r="3.00" fill="#f4826e" stroke="#5a6284" stroke-width="1.1"/>
<circle cx="211.4" cy="42.7" r="3.20" fill="#f4826e" stroke="#5a6284" stroke-width="1.1"/>
<circle cx="224.0" cy="43.6" r="5.80" fill="#2aef2e" stroke="#2a8a6a" stroke-width="1.1"/>
<circle cx="259.2" cy="42.0" r="6.00" fill="#2aef2e" stroke="#2a8a6a" stroke-width="1.1"/>
<circle cx="242.5" cy="53.4" r="5.60" fill="#2aef2e" stroke="#2a8a6a" stroke-width="1.1"/>
<circle cx="264.7" cy="63.2" r="3.80" fill="#2aef2e" stroke="#2a8a6a" stroke-width="1.1"/>
<circle cx="245.2" cy="68.2" r="3.80" fill="#2aef2e" stroke="#2a8a6a" stroke-width="1.1"/>
<circle cx="214.0" cy="70.9" r="3.00" fill="#d0cd00" stroke="#3e8a6a" stroke-width="1.1"/>
<circle cx="228.8" cy="70.5" r="3.80" fill="#d0cd00" stroke="#3e8a6a" stroke-width="1.1"/>
<circle cx="197.1" cy="81.6" r="3.60" fill="#d0cd00" stroke="#3e8a6a" stroke-width="1.1"/>
<circle cx="239.8" cy="82.8" r="4.60" fill="#d0cd00" stroke="#3e8a6a" stroke-width="1.1"/>
<circle cx="216.9" cy="91.3" r="5.70" fill="#d0cd00" stroke="#3e8a6a" stroke-width="1.1"/>
<circle cx="230.6" cy="86.9" r="2.80" fill="#d0cd00" stroke="#3e8a6a" stroke-width="1.1"/>
<circle cx="231.3" cy="99.9" r="2.80" fill="#d0cd00" stroke="#3e8a6a" stroke-width="1.1"/>
<circle cx="198.9" cy="106.5" r="4.40" fill="#d0cd00" stroke="#3e8a6a" stroke-width="1.1"/>
<circle cx="239.8" cy="107.9" r="2.80" fill="#d0cd00" stroke="#3e8a6a" stroke-width="1.1"/>
<circle cx="216.8" cy="117.2" r="3.60" fill="#d0cd00" stroke="#3e8a6a" stroke-width="1.1"/>
<circle cx="268.8" cy="76.4" r="4.20" fill="#cc00cc" stroke="#6a2a9a" stroke-width="1.1"/>
<circle cx="294.2" cy="72.4" r="4.70" fill="#cc00cc" stroke="#6a2a9a" stroke-width="1.1"/>
<circle cx="285.9" cy="83.4" r="4.60" fill="#cc00cc" stroke="#6a2a9a" stroke-width="1.1"/>
<circle cx="263.6" cy="87.8" r="4.20" fill="#cc00cc" stroke="#6a2a9a" stroke-width="1.1"/>
<circle cx="294.8" cy="92.1" r="4.60" fill="#cc00cc" stroke="#6a2a9a" stroke-width="1.1"/>
<circle cx="263.6" cy="104.2" r="4.20" fill="#cc00cc" stroke="#6a2a9a" stroke-width="1.1"/>
<circle cx="283.9" cy="103.0" r="4.60" fill="#cc00cc" stroke="#6a2a9a" stroke-width="1.1"/>
<circle cx="268.6" cy="118.0" r="4.20" fill="#cc00cc" stroke="#6a2a9a" stroke-width="1.1"/>
<circle cx="301.5" cy="113.9" r="3.20" fill="#cc00cc" stroke="#6a2a9a" stroke-width="1.1"/>
<circle cx="324.7" cy="93.3" r="5.40" fill="#056f6f" stroke="#0a4a5a" stroke-width="1.1"/>
<circle cx="319.8" cy="109.4" r="5.40" fill="#056f6f" stroke="#0a4a5a" stroke-width="1.1"/>
<circle cx="347.6" cy="105.2" r="4.80" fill="#056f6f" stroke="#0a4a5a" stroke-width="1.1"/>
<circle cx="350.4" cy="125.4" r="4.80" fill="#056f6f" stroke="#0a4a5a" stroke-width="1.1"/>
<circle cx="317.6" cy="136.8" r="4.00" fill="#056f6f" stroke="#0a4a5a" stroke-width="1.1"/>
<circle cx="335.6" cy="139.7" r="4.60" fill="#056f6f" stroke="#0a4a5a" stroke-width="1.1"/>
<circle cx="35.8" cy="101.5" r="3.00" fill="#ff8a14" stroke="#5e6a78" stroke-width="1.1"/>
<circle cx="64.4" cy="107.1" r="3.40" fill="#ff8a14" stroke="#5e6a78" stroke-width="1.1"/>
<circle cx="50.5" cy="114.0" r="3.00" fill="#ff8a14" stroke="#5e6a78" stroke-width="1.1"/>
<circle cx="21.9" cy="119.6" r="2.80" fill="#ff8a14" stroke="#5e6a78" stroke-width="1.1"/>
<circle cx="71.4" cy="124.4" r="3.00" fill="#ff8a14" stroke="#5e6a78" stroke-width="1.1"/>
<circle cx="38.8" cy="127.9" r="2.80" fill="#ff8a14" stroke="#5e6a78" stroke-width="1.1"/>
<circle cx="57.1" cy="135.9" r="2.80" fill="#ff8a14" stroke="#5e6a78" stroke-width="1.1"/>
<circle cx="30.2" cy="142.7" r="3.00" fill="#ff8a14" stroke="#5e6a78" stroke-width="1.1"/>
<circle cx="46.7" cy="150.6" r="3.20" fill="#ff8a14" stroke="#5e6a78" stroke-width="1.1"/>
<circle cx="73.8" cy="149.0" r="3.00" fill="#ff8a14" stroke="#5e6a78" stroke-width="1.1"/>
<circle cx="114.6" cy="108.4" r="2.60" fill="#3286c8" stroke="#2f6a9a" stroke-width="1.1"/>
<circle cx="135.5" cy="107.1" r="3.60" fill="#3286c8" stroke="#2f6a9a" stroke-width="1.1"/>
<circle cx="103.4" cy="123.3" r="3.40" fill="#3286c8" stroke="#2f6a9a" stroke-width="1.1"/>
<circle cx="126.6" cy="122.4" r="4.60" fill="#3286c8" stroke="#2f6a9a" stroke-width="1.1"/>
<circle cx="147.7" cy="120.6" r="3.40" fill="#3286c8" stroke="#2f6a9a" stroke-width="1.1"/>
<circle cx="104.2" cy="140.2" r="3.40" fill="#3286c8" stroke="#2f6a9a" stroke-width="1.1"/>
<circle cx="125.0" cy="138.8" r="4.60" fill="#3286c8" stroke="#2f6a9a" stroke-width="1.1"/>
<circle cx="148.4" cy="137.4" r="3.20" fill="#3286c8" stroke="#2f6a9a" stroke-width="1.1"/>
<circle cx="118.4" cy="154.4" r="2.80" fill="#3286c8" stroke="#2f6a9a" stroke-width="1.1"/>
<circle cx="138.7" cy="151.9" r="3.20" fill="#3286c8" stroke="#2f6a9a" stroke-width="1.1"/>
<circle cx="174.4" cy="116.7" r="4.50" fill="#46b04a" stroke="#2e7e5a" stroke-width="1.1"/>
<circle cx="187.5" cy="126.7" r="3.90" fill="#46b04a" stroke="#2e7e5a" stroke-width="1.1"/>
<circle cx="168.7" cy="132.4" r="3.70" fill="#46b04a" stroke="#2e7e5a" stroke-width="1.1"/>
<circle cx="201.8" cy="133.7" r="3.60" fill="#46b04a" stroke="#2e7e5a" stroke-width="1.1"/>
<circle cx="160.4" cy="146.0" r="4.50" fill="#46b04a" stroke="#2e7e5a" stroke-width="1.1"/>
<circle cx="183.2" cy="146.9" r="4.10" fill="#46b04a" stroke="#2e7e5a" stroke-width="1.1"/>
<circle cx="207.3" cy="151.6" r="2.60" fill="#46b04a" stroke="#2e7e5a" stroke-width="1.1"/>
<circle cx="166.5" cy="164.2" r="5.70" fill="#46b04a" stroke="#2e7e5a" stroke-width="1.1"/>
<circle cx="198.8" cy="166.5" r="2.80" fill="#46b04a" stroke="#2e7e5a" stroke-width="1.1"/>
<circle cx="182.8" cy="172.4" r="2.60" fill="#46b04a" stroke="#2e7e5a" stroke-width="1.1"/>
<circle cx="242.0" cy="130.8" r="2.60" fill="#fbf8a8" stroke="#4a8a88" stroke-width="1.1"/>
<circle cx="224.0" cy="142.2" r="4.40" fill="#fbf8a8" stroke="#4a8a88" stroke-width="1.1"/>
<circle cx="261.2" cy="140.5" r="2.70" fill="#fbf8a8" stroke="#4a8a88" stroke-width="1.1"/>
<circle cx="225.0" cy="163.5" r="3.20" fill="#fbf8a8" stroke="#4a8a88" stroke-width="1.1"/>
<circle cx="262.2" cy="162.3" r="3.60" fill="#fbf8a8" stroke="#4a8a88" stroke-width="1.1"/>
<circle cx="243.7" cy="173.4" r="5.30" fill="#fbf8a8" stroke="#4a8a88" stroke-width="1.1"/>
<circle cx="290.6" cy="143.8" r="2.50" fill="#e8141c" stroke="#4a3c6e" stroke-width="1.1"/>
<circle cx="306.4" cy="144.3" r="3.20" fill="#e8141c" stroke="#4a3c6e" stroke-width="1.1"/>
<circle cx="276.3" cy="150.2" r="2.40" fill="#e8141c" stroke="#4a3c6e" stroke-width="1.1"/>
<circle cx="294.0" cy="154.2" r="2.30" fill="#e8141c" stroke="#4a3c6e" stroke-width="1.1"/>
<circle cx="285.4" cy="167.9" r="4.00" fill="#e8141c" stroke="#4a3c6e" stroke-width="1.1"/>
<circle cx="310.0" cy="166.5" r="5.10" fill="#e8141c" stroke="#4a3c6e" stroke-width="1.1"/>
<circle cx="337.8" cy="162.9" r="3.80" fill="#050505" stroke="#1a2a3a" stroke-width="1.1"/>
<circle cx="32.8" cy="213.5" r="3.80" fill="#3286c8" stroke="#2f6a9a" stroke-width="1.1"/>
<circle cx="49.4" cy="212.2" r="6.40" fill="#3286c8" stroke="#2f6a9a" stroke-width="1.1"/>
<circle cx="36.2" cy="232.7" r="6.60" fill="#3286c8" stroke="#2f6a9a" stroke-width="1.1"/>
<circle cx="61.7" cy="223.3" r="3.00" fill="#f4826e" stroke="#5a6284" stroke-width="1.1"/>
<circle cx="81.4" cy="226.8" r="3.40" fill="#f4826e" stroke="#5a6284" stroke-width="1.1"/>
<circle cx="53.2" cy="236.4" r="3.00" fill="#f4826e" stroke="#5a6284" stroke-width="1.1"/>
<circle cx="68.1" cy="238.7" r="2.80" fill="#f4826e" stroke="#5a6284" stroke-width="1.1"/>
<circle cx="100.0" cy="221.5" r="2.80" fill="#ff8a14" stroke="#5e6a78" stroke-width="1.1"/>
<circle cx="101.6" cy="232.8" r="3.60" fill="#ff8a14" stroke="#5e6a78" stroke-width="1.1"/>
<circle cx="81.3" cy="246.9" r="3.20" fill="#ff8a14" stroke="#5e6a78" stroke-width="1.1"/>
<circle cx="100.0" cy="246.4" r="3.20" fill="#ff8a14" stroke="#5e6a78" stroke-width="1.1"/>
<circle cx="111.0" cy="241.5" r="3.20" fill="#ff8a14" stroke="#5e6a78" stroke-width="1.1"/>
<circle cx="157.0" cy="211.6" r="6.90" fill="#e8141c" stroke="#4a3c6e" stroke-width="1.1"/>
<circle cx="124.2" cy="218.2" r="4.20" fill="#e8141c" stroke="#4a3c6e" stroke-width="1.1"/>
<circle cx="133.3" cy="226.7" r="5.00" fill="#e8141c" stroke="#4a3c6e" stroke-width="1.1"/>
<circle cx="152.0" cy="231.9" r="6.00" fill="#e8141c" stroke="#4a3c6e" stroke-width="1.1"/>
<circle cx="122.6" cy="240.5" r="5.40" fill="#e8141c" stroke="#4a3c6e" stroke-width="1.1"/>
<circle cx="138.8" cy="243.3" r="3.60" fill="#e8141c" stroke="#4a3c6e" stroke-width="1.1"/>
<circle cx="178.5" cy="222.6" r="2.80" fill="#e8141c" stroke="#4a3c6e" stroke-width="1.1"/>
<circle cx="165.7" cy="241.9" r="3.00" fill="#e8141c" stroke="#4a3c6e" stroke-width="1.1"/>
<circle cx="147.0" cy="258.1" r="3.20" fill="#e8141c" stroke="#4a3c6e" stroke-width="1.1"/>
<circle cx="181.0" cy="249.8" r="4.60" fill="#8ed9c9" stroke="#3d8a8e" stroke-width="1.1"/>
<circle cx="196.7" cy="240.3" r="3.20" fill="#8ed9c9" stroke="#3d8a8e" stroke-width="1.1"/>
<circle cx="200.7" cy="254.1" r="3.20" fill="#8ed9c9" stroke="#3d8a8e" stroke-width="1.1"/>
<circle cx="196.5" cy="229.4" r="5.60" fill="#cc00cc" stroke="#6a2a9a" stroke-width="1.1"/>
<circle cx="210.6" cy="234.6" r="3.40" fill="#cc00cc" stroke="#6a2a9a" stroke-width="1.1"/>
<circle cx="216.8" cy="251.4" r="5.80" fill="#056f6f" stroke="#0a4a5a" stroke-width="1.1"/>
<circle cx="238.4" cy="247.0" r="3.20" fill="#056f6f" stroke="#0a4a5a" stroke-width="1.1"/>
<circle cx="226.3" cy="227.8" r="3.00" fill="#0000a8" stroke="#1a1a7a" stroke-width="1.1"/>
<circle cx="227.3" cy="237.5" r="3.40" fill="#0000a8" stroke="#1a1a7a" stroke-width="1.1"/>
<circle cx="240.0" cy="235.6" r="4.80" fill="#0000a8" stroke="#1a1a7a" stroke-width="1.1"/>
<circle cx="251.6" cy="249.3" r="3.20" fill="#050505" stroke="#1a2a3a" stroke-width="1.1"/>
<circle cx="261.0" cy="261.0" r="3.00" fill="#050505" stroke="#1a2a3a" stroke-width="1.1"/>
<circle cx="241.7" cy="271.6" r="4.60" fill="#050505" stroke="#1a2a3a" stroke-width="1.1"/>
<circle cx="238.2" cy="257.5" r="3.20" fill="#fbf8a8" stroke="#4a8a88" stroke-width="1.1"/>
<circle cx="223.5" cy="263.0" r="5.00" fill="#fbf8a8" stroke="#4a8a88" stroke-width="1.1"/>
<circle cx="206.5" cy="296.9" r="6.20" fill="#419e48" stroke="#2a6a4a" stroke-width="1.1"/>
<circle cx="230.0" cy="296.3" r="5.80" fill="#2aef2e" stroke="#2a8a6a" stroke-width="1.1"/>
<circle cx="248.8" cy="296.3" r="4.00" fill="#c2bfe2" stroke="#6a86b0" stroke-width="1.1"/>
<circle cx="61.0" cy="264.0" r="5.40" fill="#d0cd00" stroke="#3e8a6a" stroke-width="1.1"/>
<circle cx="83.9" cy="272.3" r="3.80" fill="#d0cd00" stroke="#3e8a6a" stroke-width="1.1"/>
<circle cx="41.4" cy="279.0" r="3.20" fill="#d0cd00" stroke="#3e8a6a" stroke-width="1.1"/>
<circle cx="66.2" cy="291.4" r="3.00" fill="#d0cd00" stroke="#3e8a6a" stroke-width="1.1"/>
<circle cx="93.4" cy="294.3" r="4.60" fill="#d0cd00" stroke="#3e8a6a" stroke-width="1.1"/>
<circle cx="33.2" cy="297.3" r="3.00" fill="#d0cd00" stroke="#3e8a6a" stroke-width="1.1"/>
<circle cx="59.6" cy="300.6" r="3.00" fill="#d0cd00" stroke="#3e8a6a" stroke-width="1.1"/>
<circle cx="44.7" cy="314.5" r="3.00" fill="#d0cd00" stroke="#3e8a6a" stroke-width="1.1"/>
<circle cx="84.3" cy="314.5" r="3.00" fill="#d0cd00" stroke="#3e8a6a" stroke-width="1.1"/>
<circle cx="63.3" cy="324.8" r="3.00" fill="#d0cd00" stroke="#3e8a6a" stroke-width="1.1"/>
<circle cx="151.4" cy="270.7" r="3.00" fill="#a262fa" stroke="#4d4ec4" stroke-width="1.1"/>
<circle cx="167.9" cy="274.5" r="4.80" fill="#a262fa" stroke="#4d4ec4" stroke-width="1.1"/>
<circle cx="134.1" cy="278.9" r="3.60" fill="#a262fa" stroke="#4d4ec4" stroke-width="1.1"/>
<circle cx="183.0" cy="289.2" r="4.00" fill="#a262fa" stroke="#4d4ec4" stroke-width="1.1"/>
<circle cx="126.2" cy="298.2" r="5.00" fill="#a262fa" stroke="#4d4ec4" stroke-width="1.1"/>
<circle cx="155.5" cy="297.7" r="3.60" fill="#a262fa" stroke="#4d4ec4" stroke-width="1.1"/>
<circle cx="177.0" cy="310.7" r="3.60" fill="#a262fa" stroke="#4d4ec4" stroke-width="1.1"/>
<circle cx="138.8" cy="315.8" r="4.80" fill="#a262fa" stroke="#4d4ec4" stroke-width="1.1"/>
<circle cx="156.3" cy="319.6" r="6.40" fill="#a262fa" stroke="#4d4ec4" stroke-width="1.1"/>
</g>
<text x="137.0" y="13.0" class="tt">A</text><text x="150.2" y="13.0" class="tt">LvsN</text>
<text x="136.6" y="193.0" class="tt">B</text><text x="149.4" y="193.0" class="tt">HvsN</text>
<text x="365.9" y="31.3" class="hd">GO annotation</text>
<ellipse cx="369.8" cy="40.8" rx="3.6" ry="3.2" fill="#e0202a" stroke="#7a2030" stroke-width="0.4"/>
<text x="375.7" y="43.5" class="li">cell cycle process</text>
<ellipse cx="369.8" cy="49.9" rx="3.6" ry="3.2" fill="#3a80c8" stroke="#2a5a8a" stroke-width="0.4"/>
<text x="375.7" y="52.6" class="li">transferase complex</text>
<ellipse cx="369.8" cy="59.1" rx="3.6" ry="3.2" fill="#3cb04c" stroke="#2a7a3a" stroke-width="0.4"/>
<text x="375.7" y="61.8" class="li">nucleoplasm</text>
<ellipse cx="369.8" cy="68.2" rx="3.6" ry="3.2" fill="#9050c0" stroke="#5a3a8a" stroke-width="0.4"/>
<text x="375.7" y="70.9" class="li">mRNA processing</text>
<ellipse cx="369.8" cy="77.4" rx="3.6" ry="3.2" fill="#f08020" stroke="#8a5a20" stroke-width="0.4"/>
<text x="375.7" y="80.1" class="li">cell cycle phase transition</text>
<ellipse cx="369.8" cy="86.5" rx="3.6" ry="3.2" fill="#909020" stroke="#5a5a20" stroke-width="0.4"/>
<text x="375.7" y="89.2" class="li">protein import into nucleus</text>
<ellipse cx="369.8" cy="95.6" rx="3.6" ry="3.2" fill="#0000a0" stroke="#00006a" stroke-width="0.4"/>
<text x="375.7" y="98.3" class="li">chromosomal region</text>
<ellipse cx="369.8" cy="104.8" rx="3.6" ry="3.2" fill="#c010c0" stroke="#7a107a" stroke-width="0.4"/>
<text x="375.7" y="107.5" class="li">microtubule cytoskeleton</text>
<ellipse cx="369.8" cy="113.9" rx="3.6" ry="3.2" fill="#050505" stroke="#000000" stroke-width="0.4"/>
<text x="375.7" y="116.6" class="li">DNA replication</text>
<ellipse cx="369.8" cy="123.1" rx="3.6" ry="3.2" fill="#8fd3c9" stroke="#4a8a8a" stroke-width="0.4"/>
<text x="375.7" y="125.8" class="li">regulation of chromosome organization</text>
<ellipse cx="369.8" cy="132.2" rx="3.6" ry="3.2" fill="#fbfbc0" stroke="#9a9a6a" stroke-width="0.4"/>
<text x="375.7" y="134.9" class="li">catalytic activity, acting on a nucleic acid</text>
<ellipse cx="369.8" cy="141.3" rx="3.6" ry="3.2" fill="#b9b9df" stroke="#7a7a9a" stroke-width="0.4"/>
<text x="375.7" y="144.0" class="li">cell division</text>
<ellipse cx="369.8" cy="150.5" rx="3.6" ry="3.2" fill="#ef7f73" stroke="#9a5a5a" stroke-width="0.4"/>
<text x="375.7" y="153.2" class="li">nuclear DNA-directed RNA polymerase complex</text>
<ellipse cx="369.8" cy="159.6" rx="3.6" ry="3.2" fill="#0a6464" stroke="#0a4a4a" stroke-width="0.4"/>
<text x="375.7" y="162.3" class="li">chromosome organization</text>
<ellipse cx="369.8" cy="168.8" rx="3.6" ry="3.2" fill="#3cef3c" stroke="#2a9a2a" stroke-width="0.4"/>
<text x="375.7" y="171.5" class="li">cytoskeletal protein binding</text>
<text x="365.0" y="188.9" class="hd">GO annotation</text>
<ellipse cx="369.8" cy="196.9" rx="3.6" ry="3.2" fill="#e0202a" stroke="#7a2030" stroke-width="0.4"/>
<text x="375.7" y="199.6" class="li">intracellular protein-containing complex</text>
<ellipse cx="369.8" cy="207.0" rx="3.6" ry="3.2" fill="#3a80c8" stroke="#2a5a8a" stroke-width="0.4"/>
<text x="375.7" y="209.7" class="li">oogenesis</text>
<ellipse cx="369.8" cy="217.0" rx="3.6" ry="3.2" fill="#3cb04c" stroke="#2a7a3a" stroke-width="0.4"/>
<text x="375.7" y="219.7" class="li">nucleolus</text>
<ellipse cx="369.8" cy="227.1" rx="3.6" ry="3.2" fill="#9050c0" stroke="#5a3a8a" stroke-width="0.4"/>
<text x="375.7" y="229.8" class="li">supramolecular complex</text>
<ellipse cx="369.8" cy="237.2" rx="3.6" ry="3.2" fill="#f08020" stroke="#8a5a20" stroke-width="0.4"/>
<text x="375.7" y="239.9" class="li">protein localization to nucleus</text>
<ellipse cx="369.8" cy="247.2" rx="3.6" ry="3.2" fill="#909020" stroke="#5a5a20" stroke-width="0.4"/>
<text x="375.7" y="249.9" class="li">mRNA catabolic process</text>
<ellipse cx="369.8" cy="257.3" rx="3.6" ry="3.2" fill="#0000a0" stroke="#00006a" stroke-width="0.4"/>
<text x="375.7" y="260.0" class="li">mitotic cell cycle process</text>
<ellipse cx="369.8" cy="267.4" rx="3.6" ry="3.2" fill="#c010c0" stroke="#7a107a" stroke-width="0.4"/>
<text x="375.7" y="270.1" class="li">negative regulation of cellular metabolic process</text>
<ellipse cx="369.8" cy="277.5" rx="3.6" ry="3.2" fill="#050505" stroke="#000000" stroke-width="0.4"/>
<text x="375.7" y="280.2" class="li">mRNA binding</text>
<ellipse cx="369.8" cy="287.5" rx="3.6" ry="3.2" fill="#8fd3c9" stroke="#4a8a8a" stroke-width="0.4"/>
<text x="375.7" y="290.2" class="li">chromosome organization</text>
<ellipse cx="369.8" cy="297.6" rx="3.6" ry="3.2" fill="#fbfbc0" stroke="#9a9a6a" stroke-width="0.4"/>
<text x="375.7" y="300.3" class="li">helicase activity</text>
<ellipse cx="369.8" cy="307.7" rx="3.6" ry="3.2" fill="#b9b9df" stroke="#7a7a9a" stroke-width="0.4"/>
<text x="375.7" y="310.4" class="li">protein-DNA complex subunit organization</text>
<ellipse cx="369.8" cy="317.7" rx="3.6" ry="3.2" fill="#ef7f73" stroke="#9a5a5a" stroke-width="0.4"/>
<text x="375.7" y="320.4" class="li">kinase regulator activity</text>
<ellipse cx="369.8" cy="327.8" rx="3.6" ry="3.2" fill="#0a6464" stroke="#0a4a4a" stroke-width="0.4"/>
<text x="375.7" y="330.5" class="li">positive regulation of RNA metabolic process</text>
<ellipse cx="369.8" cy="337.9" rx="3.6" ry="3.2" fill="#3cef3c" stroke="#2a9a2a" stroke-width="0.4"/>
<text x="375.7" y="340.6" class="li">regulation of catalytic activity</text>
<text x="280.8" y="189" class="hd" style="font-size:10.1px">Number of genes</text>
<circle cx="313.4" cy="204" r="6.6" fill="none" stroke="#7090b0" stroke-width="0.9"/>
<circle cx="314.1" cy="219.1" r="4.9" fill="none" stroke="#7090b0" stroke-width="0.9"/>
<circle cx="314.9" cy="230.7" r="2.4" fill="none" stroke="#7090b0" stroke-width="0.9"/>
<text x="323.8" y="205.8" class="hd">25</text>
<text x="324.2" y="219.3" class="hd">18</text>
<text x="327.6" y="234.4" class="hd">3</text>
</svg>
</body></html>
